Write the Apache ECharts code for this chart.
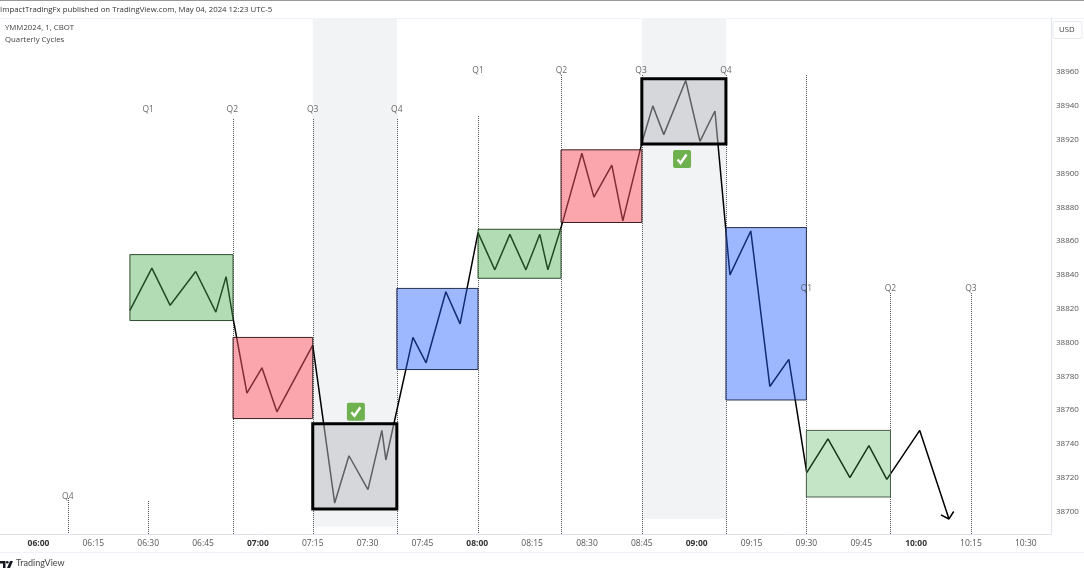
<!DOCTYPE html>
<html>
<head>
<meta charset="utf-8">
<title>YMM2024 Quarterly Cycles</title>
<style>html,body{margin:0;padding:0;background:#fff}#chart{width:1084px;height:576px}</style>
<script src="https://cdn.jsdelivr.net/npm/echarts@6/dist/echarts.min.js"></script>
</head>
<body>
<div id="chart"></div>
<script>
// times are minutes after midnight, prices are index points
var priceTicks = [38700, 38720, 38740, 38760, 38780, 38800, 38820, 38840, 38860, 38880, 38900, 38920, 38940, 38960];
var timeTicks = [360, 375, 390, 405, 420, 435, 450, 465, 480, 495, 510, 525, 540, 555, 570, 585, 600, 615, 630];

var pathTimes = [385, 391, 396, 403, 408.5, 411.3, 413.2, 417, 421.1, 425.2, 435, 441, 444.9, 450.1, 453.9, 455, 462.4, 466, 471.4, 475.3, 480.2, 484.8, 488.9, 493.3, 497.1, 499.3, 502.9, 508.6, 511.9, 516.8, 519.8, 525, 528, 531, 537, 540.9, 545, 549.1, 554.8, 560, 565.2, 570.1, 575.9, 581.9, 587.1, 592, 601, 609];
var pathPrices = [38819, 38844, 38822, 38842, 38818, 38839, 38814.5, 38770, 38785, 38759, 38798.5, 38705, 38733, 38713, 38748, 38730.5, 38803, 38788, 38830, 38811, 38865, 38843, 38864, 38843, 38864, 38843, 38868, 38912, 38886, 38905, 38872, 38918, 38940, 38923, 38955, 38919, 38937, 38840, 38866, 38774, 38790, 38723, 38743, 38720, 38739, 38719, 38748, 38695.6];
var arrowTimes = [606.8, 609, 610.3];
var arrowPrices = [38698, 38695.6, 38700];

var boxStart = [385, 413.2, 435, 458, 480.2, 502.9, 525, 548, 570];
var boxEnd = [413.2, 435, 458, 480.2, 502.9, 525, 548, 570, 593];
var boxHigh = [38852, 38803, 38752, 38832, 38867, 38914, 38956, 38868, 38748];
var boxLow = [38813, 38755, 38701.5, 38784, 38838, 38871, 38917.5, 38766, 38708.6];
var boxTone = ['green', 'red', 'gray', 'blue', 'green', 'red', 'gray', 'blue', 'paleGreen'];

var bandStart = [435, 525];
var bandEnd = [458, 548];
var bandLow = [38691, 38695.6];

var cycleTimes = [368, 390, 413.2, 435, 458, 480.2, 502.9, 525, 548, 570, 593, 615];
var cycleTops = [38708, 38706, 38932, 38932, 38932, 38934, 38958, 38958, 38958, 38958, 38829, 38829];

var labelNames = ['Q4', 'Q1', 'Q2', 'Q3', 'Q4', 'Q1', 'Q2', 'Q3', 'Q4', 'Q1', 'Q2', 'Q3'];
var labelTimes = [368, 390, 413, 435, 458, 480.2, 503, 524.8, 548, 570, 593, 615];
var labelPrices = [38709, 38937.6, 38937.6, 38937.6, 38937.6, 38961, 38961, 38961, 38961, 38832, 38832, 38832];

var checkTimes = [446.8, 536];
var checkPrices = [38759, 38908.6];

var toneStyle = {
    green: { fill: 'rgba(76,175,80,0.43)', stroke: '#2f4f30', width: 1 },
    paleGreen: { fill: 'rgba(76,175,80,0.32)', stroke: '#4a5f4a', width: 1 },
    red: { fill: 'rgba(247,82,95,0.52)', stroke: '#3a2022', width: 1 },
    blue: { fill: 'rgba(41,98,255,0.45)', stroke: '#26304f', width: 1 },
    gray: { fill: 'rgba(186,187,191,0.5)', stroke: '#000', width: 3 }
};

function pairs(a, b) {
    return a.map(function (v, i) { return [v, b[i]]; });
}

function clock(m) {
    var h = Math.floor(m / 60), n = m % 60;
    return (h < 10 ? '0' : '') + h + ':' + (n < 10 ? '0' : '') + n;
}

var font = '"Open Sans", sans-serif';
var myChart = echarts.init(document.getElementById('chart'));

var option = {
    animation: false,
    backgroundColor: '#fff',
    textStyle: { fontFamily: font },
    grid: { left: 0, right: 33, top: 18, bottom: 42, outerBoundsMode: 'none' },
    xAxis: {
        type: 'value',
        min: 349.47,
        max: 636.9,
        axisLine: { show: true, lineStyle: { color: '#e0e3eb' } },
        axisTick: { show: false },
        splitLine: { show: false },
        axisLabel: {
            customValues: timeTicks,
            hideOverlap: false,
            margin: 5,
            fontSize: 8.5,
            color: '#555',
            formatter: function (v) {
                return v % 60 === 0 ? '{hour|' + clock(v) + '}' : clock(v);
            },
            rich: { hour: { fontSize: 8.5, fontWeight: 'bold', color: '#333', fontFamily: font } }
        }
    },
    yAxis: {
        type: 'value',
        position: 'right',
        min: 38686.7,
        max: 38992,
        axisLine: { show: true, lineStyle: { color: '#e0e3eb' } },
        axisTick: { show: false },
        splitLine: { show: false },
        axisLabel: {
            customValues: priceTicks,
            margin: 5,
            fontSize: 8,
            color: '#555',
            formatter: function (v) { return String(v); }
        }
    },
    graphic: [
        { type: 'rect', shape: { x: 0, y: 0, width: 1084, height: 1 }, style: { fill: '#999' } },
        { type: 'rect', shape: { x: 0, y: 18, width: 1084, height: 1 }, style: { fill: '#f0f3fa' } },
        { type: 'rect', shape: { x: 0, y: 552, width: 1084, height: 1 }, style: { fill: '#f0f3fa' } },
        { type: 'text', x: 0, y: 6, style: { text: 'ImpactTradingFx published on TradingView.com, May 04, 2024 12:23 UTC-5', font: '7.8px ' + font, fill: '#333' } },
        { type: 'text', x: 5, y: 24, style: { text: 'YMM2024, 1, CBOT', font: '7.8px ' + font, fill: '#444' } },
        { type: 'text', x: 5, y: 36, style: { text: 'Quarterly Cycles', font: '7.8px ' + font, fill: '#444' } },
        { type: 'rect', shape: { x: 1053, y: 21.5, width: 29, height: 17, r: 2 }, style: { fill: '#fff', stroke: '#e8eaf0' } },
        { type: 'text', x: 1059, y: 26, style: { text: 'USD', font: '7.8px ' + font, fill: '#444' } },
        { type: 'polygon', shape: { points: [[0, 561], [5.5, 561], [5.5, 568], [3, 568], [3, 563.5], [0, 563.5]] }, style: { fill: '#131722' } },
        { type: 'circle', shape: { cx: 7.3, cy: 562.3, r: 1.3 }, style: { fill: '#131722' } },
        { type: 'polygon', shape: { points: [[10, 561], [13, 561], [10, 568], [7, 568]] }, style: { fill: '#131722' } },
        { type: 'text', x: 16, y: 559, style: { text: 'TradingView', font: '9px Lato, sans-serif', fill: '#444' } }
    ],
    series: [
        {
            // the two pale session bands behind everything
            type: 'custom',
            z: 1,
            silent: true,
            data: bandStart.map(function (s, i) { return [s, bandEnd[i], bandLow[i]]; }),
            encode: { x: [0, 1], y: 2 },
            renderItem: function (params, api) {
                var a = api.coord([api.value(0), 38992]);
                var b = api.coord([api.value(1), api.value(2)]);
                return { type: 'rect', shape: { x: a[0], y: a[1], width: b[0] - a[0], height: b[1] - a[1] }, style: { fill: '#f2f3f5' } };
            }
        },
        {
            type: 'custom',
            z: 2,
            silent: true,
            data: pairs(cycleTimes, cycleTops),
            encode: { x: 0, y: 1 },
            renderItem: function (params, api) {
                var a = api.coord([api.value(0), api.value(1)]);
                var b = api.coord([api.value(0), 38686.7]);
                // snap to a pixel so the dots stay crisp
                var x = Math.round(a[0]) + 0.5;
                return { type: 'line', shape: { x1: x, y1: Math.round(a[1]), x2: x, y2: Math.round(b[1]) }, style: { stroke: '#555', lineWidth: 1, lineDash: [1, 1] } };
            }
        },
        {
            type: 'line',
            z: 3,
            silent: true,
            showSymbol: false,
            data: pairs(pathTimes, pathPrices),
            lineStyle: { color: '#000', width: 1.5 }
        },
        {
            type: 'line',
            z: 3,
            silent: true,
            showSymbol: false,
            data: pairs(arrowTimes, arrowPrices),
            lineStyle: { color: '#000', width: 1.5 }
        },
        {
            // boxes go over the path, which then shows through their tint
            type: 'custom',
            z: 4,
            silent: true,
            data: boxStart.map(function (s, i) { return [s, boxEnd[i], boxHigh[i], boxLow[i]]; }),
            encode: { x: [0, 1], y: [2, 3] },
            renderItem: function (params, api) {
                var a = api.coord([api.value(0), api.value(2)]);
                var b = api.coord([api.value(1), api.value(3)]);
                var tone = toneStyle[boxTone[params.dataIndex]];
                return { type: 'rect', shape: { x: a[0], y: a[1], width: b[0] - a[0], height: b[1] - a[1] }, style: { fill: tone.fill, stroke: tone.stroke, lineWidth: tone.width } };
            }
        },
        {
            type: 'custom',
            z: 5,
            silent: true,
            data: pairs(checkTimes, checkPrices),
            encode: { x: 0, y: 1 },
            renderItem: function (params, api) {
                var c = api.coord([api.value(0), api.value(1)]);
                return {
                    type: 'group',
                    x: c[0],
                    y: c[1],
                    children: [
                        { type: 'rect', shape: { x: -9, y: -9, width: 18, height: 18, r: 2 }, style: { fill: '#6fb04f' } },
                        { type: 'polyline', shape: { points: [[-4.5, 0.5], [-1.5, 4], [4.5, -4.5]] }, style: { stroke: '#fff', fill: 'none', lineWidth: 2.4 } }
                    ]
                };
            }
        },
        {
            type: 'scatter',
            z: 6,
            silent: true,
            symbolSize: 0,
            data: labelNames.map(function (n, i) { return { name: n, value: [labelTimes[i], labelPrices[i]] }; }),
            label: { show: true, position: 'inside', formatter: '{b}', fontSize: 8.5, color: '#444' }
        }
    ]
};
myChart.setOption(option);
</script>
</body>
</html>
